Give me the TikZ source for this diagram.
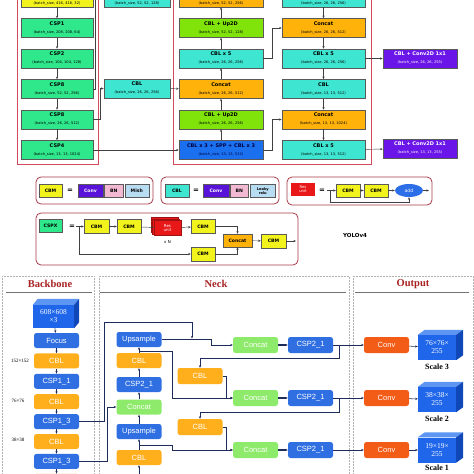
\documentclass[tikz,border=0pt]{standalone}
\usepackage{fontspec}
\setmainfont{Liberation Serif}
\setsansfont{DejaVu Sans}
\newfontfamily\neckfont{Liberation Sans}
\usepackage{xcolor}
\usepackage{tikz}
\usetikzlibrary{arrows.meta,positioning,calc,shapes.geometric,shadows}

\definecolor{cbmY}{HTML}{F2F21C}
\definecolor{cspG}{HTML}{2FE88C}
\definecolor{cblC}{HTML}{3EE6D2}
\definecolor{catO}{HTML}{FFB20A}
\definecolor{upG}{HTML}{80E40A}
\definecolor{sppB}{HTML}{1A70EE}
\definecolor{outP}{HTML}{6A16E8}
\definecolor{convP}{HTML}{5812D8}
\definecolor{bnPk}{HTML}{F2BAD2}
\definecolor{mishB}{HTML}{B8DCF2}
\definecolor{resR}{HTML}{E81818}
\definecolor{addB}{HTML}{2C6EE8}
\definecolor{frameR}{HTML}{D24A5C}
\definecolor{nBlue}{HTML}{2F6FE2}
\definecolor{nOrange}{HTML}{FFAE1C}
\definecolor{nGreen}{HTML}{8EEA6A}
\definecolor{nConv}{HTML}{F25C16}
\definecolor{cubeF}{HTML}{1F66EA}
\definecolor{cubeT}{HTML}{5C96F2}
\definecolor{cubeS}{HTML}{1148B8}
\definecolor{hdrR}{HTML}{A82222}
\definecolor{lineN}{HTML}{1E2C5C}

% subtitle line of the upper blocks
\newcommand{\bsz}[1]{{\mdseries\fontsize{3.6}{4}\selectfont(batch\_size, #1)}}

\begin{document}
\begin{tikzpicture}[
				x=1pt, y=1pt,
				>={Stealth[length=2.6pt,width=2.2pt]},
				node distance=11pt,
				blk/.style={rectangle, draw=black!65, line width=0.5pt, minimum width=72pt,
					minimum height=19pt, inner sep=0pt, align=center,
					font=\sffamily\bfseries\fontsize{5}{6}\selectfont},
				cut/.style={text height=13pt, text depth=0pt},
				frame/.style={draw=frameR, line width=0.9pt},
				lframe/.style={draw=frameR!80!black, line width=0.8pt, rounded corners=5pt},
				lg/.style={rectangle, draw=black!65, line width=0.4pt, minimum height=13pt,
					inner sep=0pt, align=center, font=\sffamily\bfseries\fontsize{4.6}{5}\selectfont},
				eqs/.style={font=\sffamily\bfseries\fontsize{7}{7}\selectfont, inner sep=0pt},
				ln/.style={draw=black!75, line width=0.45pt},
				arr/.style={->, ln},
				nblk/.style={rectangle, rounded corners=2.5pt, minimum width=45pt, minimum height=15pt,
					inner sep=0pt, text=white, font=\neckfont\fontsize{7.5}{8}\selectfont},
				cube/.style={rectangle, fill=cubeF, minimum width=38pt, minimum height=25pt,
					inner sep=0pt, align=center, text=white, font=\rmfamily\fontsize{7.5}{8}\selectfont},
				hdr/.style={font=\rmfamily\bfseries\fontsize{10.5}{12}\selectfont, text=hdrR},
				size/.style={font=\rmfamily\fontsize{5}{6}\selectfont, inner sep=0pt},
				narr/.style={->, draw=lineN, line width=0.55pt},
				thk/.style={->, draw=lineN, line width=1.1pt},
				panel/.style={draw=black!30, densely dotted, line width=0.5pt},
				uline/.style={draw=black!55, line width=0.7pt}
				]
				\useasboundingbox (0,0) rectangle (474,-474);
				\clip (0,0) rectangle (474,-474);
				\fill[white] (0,0) rectangle (474,-474);
				
				% Upper part: backbone column
				\draw[frame] (17,10) rectangle (98,-164);
				\draw[frame] (173,10) rectangle (371,-164);
				\node[blk, cut, fill=cbmY] (cbm0) at (57,2.5) {\bsz{416, 416, 32}};
				\node[blk, fill=cspG, below=of cbm0] (csp1) {CSP1\\[2pt]\bsz{208, 208, 64}};
				\node[blk, fill=cspG, below=of csp1] (csp2) {CSP2\\[2pt]\bsz{104, 104, 128}};
				\node[blk, fill=cspG, below=of csp2] (csp8a) {CSP8\\[2pt]\bsz{52, 52, 256}};
				\node[blk, fill=cspG, below=of csp8a] (csp8b) {CSP8\\[2pt]\bsz{26, 26, 512}};
				\node[blk, fill=cspG, below=of csp8b] (csp4) {CSP4\\[2pt]\bsz{13, 13, 1024}};
				
				% Upper part: middle column
				\node[blk, cut, fill=cblC, minimum width=66pt] (cblt) at (137,2.5) {\bsz{52, 52, 128}};
				\node[blk, fill=cblC, minimum width=66pt] (cblm) at (137,-88.5) {CBL\\[2pt]\bsz{26, 26, 256}};
				
				% Upper part: neck, going up
				\node[blk, cut, fill=catO, minimum width=84pt] (cat0) at (221,2.5) {\bsz{52, 52, 256}};
				\node[blk, fill=upG, minimum width=84pt, below=of cat0] (up2da) {CBL + Up2D\\[2pt]\bsz{52, 52, 128}};
				\node[blk, fill=cblC, minimum width=84pt, below=of up2da] (cbl5a) {CBL x 5\\[2pt]\bsz{26, 26, 256}};
				\node[blk, fill=catO, minimum width=84pt, below=of cbl5a] (cat1) {Concat\\[2pt]\bsz{26, 26, 512}};
				\node[blk, fill=upG, minimum width=84pt, below=of cat1] (up2db) {CBL + Up2D\\[2pt]\bsz{26, 26, 256}};
				\node[blk, fill=sppB, minimum width=84pt, text=blue!25!black, below=of up2db] (spp) {CBL x 3 + SPP + CBL x 3\\[2pt]\bsz{13, 13, 512}};
				
				% Upper part: neck, going down
				\node[blk, cut, fill=cblC, minimum width=83pt] (cbl0r) at (323.5,2.5) {\bsz{26, 26, 256}};
				\node[blk, fill=catO, minimum width=83pt, below=of cbl0r] (cat2) {Concat\\[2pt]\bsz{26, 26, 512}};
				\node[blk, fill=cblC, minimum width=83pt, below=of cat2] (cbl5b) {CBL x 5\\[2pt]\bsz{26, 26, 256}};
				\node[blk, fill=cblC, minimum width=83pt, below=of cbl5b] (cbl4) {CBL\\[2pt]\bsz{13, 13, 512}};
				\node[blk, fill=catO, minimum width=83pt, below=of cbl4] (cat3) {Concat\\[2pt]\bsz{13, 13, 1024}};
				\node[blk, fill=cblC, minimum width=83pt, below=of cat3] (cbl5c) {CBL x 5\\[2pt]\bsz{13, 13, 512}};
				
				% Upper part: heads
				\node[blk, fill=outP, text=white, minimum width=74pt] (head1) at (420,-58.5) {CBL + Conv2D 1x1\\[2pt]\bsz{26, 26, 255}};
				\node[blk, fill=outP, text=white, minimum width=74pt] (head2) at (420,-148.5) {CBL + Conv2D 1x1\\[2pt]\bsz{13, 13, 255}};
				
				% Upper part: connections
				\coordinate (up52) at (95,10);
				\coordinate (t8) at (100,-88.5);
				\draw[arr] (cbm0) -- (csp1);
				\draw[arr] (csp1) -- (csp2);
				\draw[arr] (csp2) -- (csp8a);
				\draw[arr] (csp8a) -- (csp8b);
				\draw[arr] (csp8b) -- (csp4);
				\draw[ln] (csp8a.east) -| (up52);
				\draw[arr] (csp8b.east) -| (t8) -- (cblm);
				\draw[arr] (cblm) -- (cat1);
				\draw[arr] (csp4) -- (spp);
				\draw[arr] (spp) -- (up2db);
				\draw[arr] (up2db) -- (cat1);
				\draw[arr] (cat1) -- (cbl5a);
				\draw[arr] (cbl5a) -- (up2da);
				\draw[arr] (up2da) -- (cat0);
				\draw[arr] (cbl5a.east) -- ++(9,0) |- (cat2);
				\draw[arr] (spp.east) -- ++(9,0) |- (cat3);
				\draw[arr] (cbl0r) -- (cat2);
				\draw[arr] (cat2) -- (cbl5b);
				\draw[arr] (cbl5b) -- (cbl4);
				\draw[arr] (cbl4) -- (cat3);
				\draw[arr] (cat3) -- (cbl5c);
				\draw[arr] (cbl5b) -- (head1);
				\draw[arr] (cbl5c) -- (head2);
				
				% Legend: CBM and CBL
				\draw[lframe] (36,-177) rectangle (153,-204);
				\node[lg, fill=cbmY, minimum width=23pt] (kcbm) at (50.5,-191) {CBM};
				\node[eqs] (keq1) at (70,-191) {=};
				\node[lg, fill=convP, text=white, minimum width=25pt] (kconv1) at (90.5,-191) {Conv};
				\node[lg, fill=bnPk, minimum width=19pt, right=1pt of kconv1] (kbn1) {BN};
				\node[lg, fill=mishB, minimum width=24pt, right=1pt of kbn1] (kmish) {Mish};
				
				\draw[lframe] (161,-177) rectangle (279,-204);
				\node[lg, fill=cblC, minimum width=24pt] (kcbl) at (177,-191) {CBL};
				\node[eqs] (keq2) at (196,-191) {=};
				\node[lg, fill=convP, text=white, minimum width=26pt] (kconv2) at (216,-191) {Conv};
				\node[lg, fill=bnPk, minimum width=18pt, right=1pt of kconv2] (kbn2) {BN};
				\node[lg, fill=mishB, minimum width=25pt, right=1.5pt of kbn2,
					font=\sffamily\bfseries\fontsize{3.6}{4}\selectfont] (kleaky) {Leaky\\relu};
				
				% Legend: Res unit
				\draw[lframe] (287,-177) rectangle (432,-205);
				\node[lg, fill=resR, text=white, draw=none, minimum width=24pt,
					font=\sffamily\fontsize{3.8}{4.2}\selectfont] (kres1) at (303,-189.5) {Res\\unit};
				\node[eqs] (keq3) at (322,-190.5) {=};
				\coordinate (rin) at (327,-190.5);
				\coordinate (rsplit) at (330,-190.5);
				\coordinate (rout) at (429,-190.5);
				\node[lg, fill=cbmY, minimum width=24pt] (kr1) at (348,-190.5) {CBM};
				\node[lg, fill=cbmY, minimum width=24pt] (kr2) at (376,-190.5) {CBM};
				\node[ellipse, fill=addB, minimum width=28pt, minimum height=13pt, inner sep=0pt,
					text=white, font=\sffamily\fontsize{4.6}{5}\selectfont] (kadd) at (409,-190.5) {add};
				\draw[arr] (rin) -- (kr1);
				\draw[arr] (kr1) -- (kr2);
				\draw[arr] (kr2) -- (kadd);
				\draw[arr] (kadd) -- (rout);
				\draw[arr] (rsplit) -- ++(0,-11.5) -| (kadd.south);
				
				% Legend: CSPX
				\draw[lframe] (36,-213) rectangle (298,-265);
				\node[lg, fill=cspG, minimum width=23pt, minimum height=13pt] (kcspx) at (50.5,-226) {CSPX};
				\node[eqs] (keq4) at (72,-226.5) {=};
				\coordinate (cin) at (76,-226.5);
				\coordinate (csplit) at (79,-226.5);
				\coordinate (cout) at (296,-241);
				\node[lg, fill=cbmY, minimum width=25pt, minimum height=14pt] (kc1) at (96.5,-226.5) {CBM};
				\node[lg, fill=cbmY, minimum width=24pt, minimum height=14pt] (kc2) at (129,-226.5) {CBM};
				\node[lg, fill=resR, text=white, draw=resR!70!black, minimum width=27pt, minimum height=15pt,
					font=\sffamily\fontsize{4}{4.4}\selectfont,
					double copy shadow={shadow xshift=-1.5pt, shadow yshift=1.5pt}] (kres2) at (167.5,-228) {Res\\unit};
				\node[font=\sffamily\fontsize{4}{4}\selectfont, below=1.5pt of kres2] (kn) {x N};
				\node[lg, fill=cbmY, minimum width=24pt, minimum height=14pt] (kc3) at (203,-226.5) {CBM};
				\node[lg, fill=catO, minimum width=29pt, minimum height=13pt] (kcat) at (237.5,-240.5) {Concat};
				\node[lg, fill=cbmY, minimum width=25pt, minimum height=14pt] (kc4) at (273.5,-241) {CBM};
				\node[lg, fill=cbmY, minimum width=24pt, minimum height=14pt] (kc5) at (203,-254) {CBM};
				\draw[arr] (cin) -- (kc1);
				\draw[arr] (kc1) -- (kc2);
				\draw[arr] (kc2) -- (kres2);
				\draw[arr] (kres2) -- (kc3);
				\draw[arr] (kc3) -| (kcat);
				\draw[arr] (csplit) |- (kc5);
				\draw[arr] (kc5) -| (kcat);
				\draw[arr] (kcat) -- (kc4);
				\draw[arr] (kc4) -- (cout);
				\node[font=\sffamily\bfseries\fontsize{5.5}{6}\selectfont] (yolo) at (355,-235) {YOLOv4};
				
				% Lower part: panels and headings
				\draw[panel] (2,-276) rectangle (94,-480);
				\draw[panel] (99,-276) rectangle (349,-480);
				\draw[panel] (353,-276) rectangle (473,-480);
				\node[hdr] (hbb) at (50,-284) {Backbone};
				\node[hdr] (hneck) at (216,-284) {Neck};
				\node[hdr] (hout) at (413,-284) {Output};
				\draw[uline] (6,-292) -- (92,-292);
				\draw[uline] (100,-292) -- (346,-292);
				\draw[uline] (355,-292) -- (469,-292);
				
				% Lower part: backbone
				\node[cube, minimum width=41pt, minimum height=23pt] (inp) at (53.5,-316.5) {608×608\\×3};
				\node[nblk, fill=nBlue] (focus) at (56.5,-340.5) {Focus};
				\node[nblk, fill=nOrange, below=5pt of focus] (bcbl1) {CBL};
				\node[nblk, fill=nBlue, below=5pt of bcbl1] (csp11) {CSP1\_1};
				\node[nblk, fill=nOrange, below=5pt of csp11] (bcbl2) {CBL};
				\node[nblk, fill=nBlue, below=4.5pt of bcbl2] (csp13a) {CSP1\_3};
				\node[nblk, fill=nOrange, below=4.5pt of csp13a] (bcbl3) {CBL};
				\node[nblk, fill=nBlue, below=4.5pt of bcbl3] (csp13b) {CSP1\_3};
				\node[nblk, fill=nOrange, below=4.5pt of csp13b] (bcbl4) {};
				\node[size] (s152) at (20,-360.5) {152×152};
				\node[size] (s76) at (18,-400.5) {76×76};
				\node[size] (s38) at (18,-439.5) {38×38};
				
				% Lower part: neck
				\node[nblk, fill=nBlue] (upA) at (139,-339.5) {Upsample};
				\node[nblk, fill=nOrange] (cblA1) at (139,-360.5) {CBL};
				\node[nblk, fill=nBlue] (csp2A) at (139,-384.5) {CSP2\_1};
				\node[nblk, fill=nGreen] (catA) at (139,-407) {Concat};
				\node[nblk, fill=nBlue] (upB) at (139,-431.5) {Upsample};
				\node[nblk, fill=nOrange] (cblA2) at (139,-457.5) {CBL};
				\node[nblk, fill=nOrange, minimum height=16pt] (cblB1) at (200,-376) {CBL};
				\node[nblk, fill=nOrange, minimum height=16pt] (cblB2) at (200,-427) {CBL};
				\node[nblk, fill=nGreen, minimum height=16pt] (catC1) at (255.5,-345) {Concat};
				\node[nblk, fill=nGreen, minimum height=16pt] (catC2) at (255.5,-398) {Concat};
				\node[nblk, fill=nGreen, minimum height=16pt] (catC3) at (255.5,-450) {Concat};
				\node[nblk, fill=nBlue, minimum height=16pt] (cspC1) at (310.5,-345) {CSP2\_1};
				\node[nblk, fill=nBlue, minimum height=16pt] (cspC2) at (310.5,-398) {CSP2\_1};
				\node[nblk, fill=nBlue, minimum height=16pt] (cspC3) at (310.5,-450) {CSP2\_1};
				
				% Lower part: output
				\node[nblk, fill=nConv, minimum height=16pt] (conv1) at (386.5,-345) {Conv};
				\node[nblk, fill=nConv, minimum height=16pt] (conv2) at (386.5,-398) {Conv};
				\node[nblk, fill=nConv, minimum height=16pt] (conv3) at (386.5,-450) {Conv};
				\node[cube] (out3) at (437,-347.5) {76×76×\\255};
				\node[cube] (out2) at (437,-399.5) {38×38×\\255};
				\node[cube] (out1) at (437,-450) {19×19×\\255};
				\node[font=\rmfamily\bfseries\fontsize{8}{9}\selectfont, below=0pt of out3] (sc3) {Scale 3};
				\node[font=\rmfamily\bfseries\fontsize{8}{9}\selectfont, below=0pt of out2] (sc2) {Scale 2};
				\node[font=\rmfamily\bfseries\fontsize{8}{9}\selectfont, below=-1.5pt of out1] (sc1) {Scale 1};
				
				% Cube faces
				\fill[cubeT] (inp.north west) -- ++(5,6) -- ($(inp.north east)+(5,6)$) -- (inp.north east) -- cycle;
				\fill[cubeS] (inp.north east) -- ++(5,6) -- ($(inp.south east)+(5,6)$) -- (inp.south east) -- cycle;
				\fill[cubeT] (out3.north west) -- ++(7,5) -- ($(out3.north east)+(7,5)$) -- (out3.north east) -- cycle;
				\fill[cubeS] (out3.north east) -- ++(7,5) -- ($(out3.south east)+(7,5)$) -- (out3.south east) -- cycle;
				\fill[cubeT] (out2.north west) -- ++(7,5) -- ($(out2.north east)+(7,5)$) -- (out2.north east) -- cycle;
				\fill[cubeS] (out2.north east) -- ++(7,5) -- ($(out2.south east)+(7,5)$) -- (out2.south east) -- cycle;
				\fill[cubeT] (out1.north west) -- ++(7,5) -- ($(out1.north east)+(7,5)$) -- (out1.north east) -- cycle;
				\fill[cubeS] (out1.north east) -- ++(7,5) -- ($(out1.south east)+(7,5)$) -- (out1.south east) -- cycle;
				
				% Lower part: connections
				\coordinate (r1) at (192,-322);
				\coordinate (m1) at (192,-338.5);
				\coordinate (j1) at (211,-339.5);
				\coordinate (v2) at (172,-398);
				\coordinate (v3) at (172,-450);
				\coordinate (t1) at (200,-358);
				\coordinate (t2) at (200,-412);
				\coordinate (belowA) at (139,-480);
				\draw[narr] (inp) -- (focus);
				\draw[narr] (focus) -- (bcbl1);
				\draw[narr] (bcbl1) -- (csp11);
				\draw[narr] (csp11) -- (bcbl2);
				\draw[narr] (bcbl2) -- (csp13a);
				\draw[narr] (csp13a) -- (bcbl3);
				\draw[narr] (bcbl3) -- (csp13b);
				\draw[narr] (csp13b) -- (bcbl4);
				\draw[narr] (csp13a.east) -- ++(25,0) |- (r1) -- (m1);
				\draw[narr] (csp13b.east) -- ++(28,0) |- (catA);
				\draw[narr] (belowA) -- (cblA2);
				\draw[narr] (cblA2) -- (upB);
				\draw[narr] (upB) -- (catA);
				\draw[narr] (catA) -- (csp2A);
				\draw[narr] (csp2A) -- (cblA1);
				\draw[narr] (cblA1) -- (upA);
				\draw[narr] (upA) -- (j1) |- (catC1);
				\draw[narr] (cblA1.north) ++(0,2) -| (v2) -- (catC2);
				\draw[narr] (cblA2.north) ++(0,5) -| (v3) -- (catC3);
				\draw[thk] (catC1) -- (cspC1);
				\draw[thk] (catC2) -- (cspC2);
				\draw[thk] (catC3) -- (cspC3);
				\draw[narr] (cspC1.east) ++(6,0) |- (t1) -- (cblB1);
				\draw[narr] (cspC2.east) ++(6,0) |- (t2) -- (cblB2);
				\draw[narr] (cblB1.east) -- ++(4,0) |- (catC2);
				\draw[narr] (cblB2.east) -- ++(4,0) |- (catC3);
				\draw[narr] (cspC1) -- (conv1);
				\draw[narr] (cspC2) -- (conv2);
				\draw[narr] (cspC3) -- (conv3);
				\draw[narr] (conv1) -- (out3);
				\draw[narr] (conv2) -- (out2);
				\draw[narr] (conv3) -- (out1);
				
			\end{tikzpicture}
\end{document}
